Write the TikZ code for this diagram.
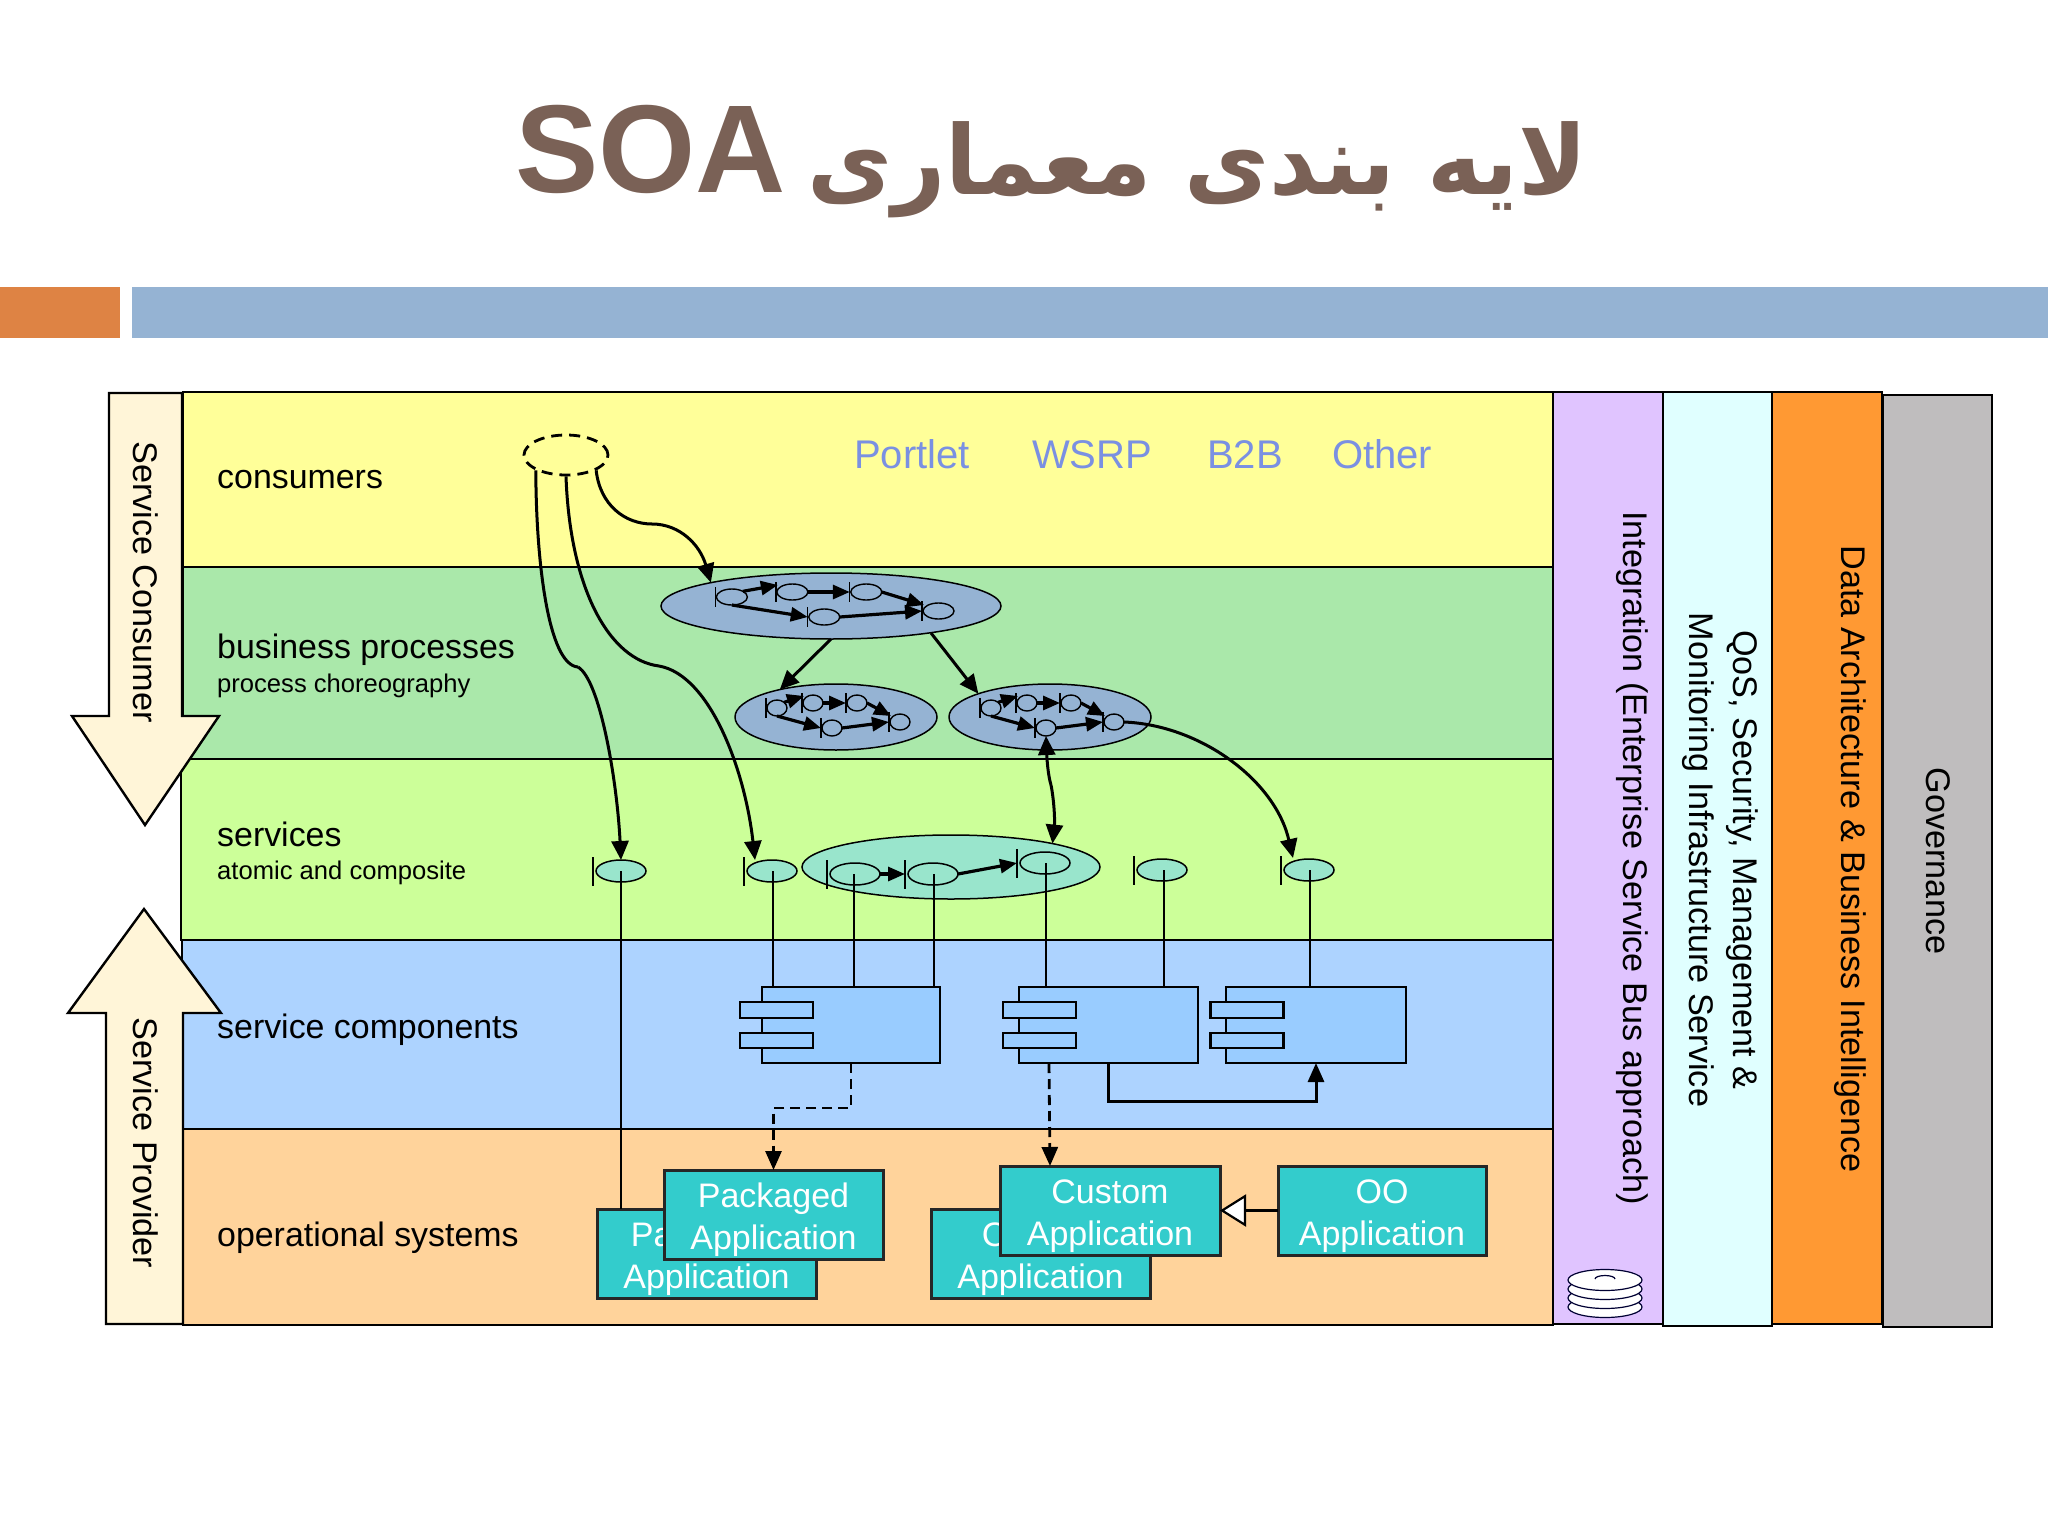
\documentclass[tikz,border=0pt]{standalone}
\usepackage{graphicx}
\usepackage{fontspec}
\setmainfont{Liberation Sans}
\newfontfamily\arabicfont[Script=Arabic]{DejaVu Sans}
\TeXXeTstate=1
\usetikzlibrary{shapes.geometric,arrows.meta,calc}
\definecolor{bandA}{HTML}{FFFF99}
\definecolor{bandB}{HTML}{AAE8AA}
\definecolor{bandC}{HTML}{CCFF99}
\definecolor{bandD}{HTML}{ADD3FF}
\definecolor{bandE}{HTML}{FFD39B}
\definecolor{sideA}{HTML}{E0C4FF}
\definecolor{sideB}{HTML}{E0FFFF}
\definecolor{sideC}{HTML}{FF9933}
\definecolor{sideD}{HTML}{BFBDBE}
\definecolor{titlecol}{HTML}{7A6156}
\definecolor{barO}{HTML}{DE8344}
\definecolor{barB}{HTML}{95B3D3}
\definecolor{flowfill}{HTML}{95B3D3}
\definecolor{svcfill}{HTML}{99E5CC}
\definecolor{compfill}{HTML}{99CCFF}
\definecolor{appfill}{HTML}{33CCCC}
\definecolor{arrowfill}{HTML}{FFF5D8}
\definecolor{techcol}{HTML}{7A90E2}
\newcommand{\lowr}[1]{\raisebox{-5pt}[26pt][8pt]{#1}}
\tikzset{
  x=1pt,y=-1pt,
  band/.style={draw=black,line width=1.5pt},
  side/.style={draw=black,line width=2pt},
  biglabel/.style={anchor=base west,inner sep=0,font=\fontsize{33.9}{40}\selectfont},
  sublabel/.style={anchor=base west,inner sep=0,font=\fontsize{25.6}{30}\selectfont},
  techlabel/.style={anchor=base west,inner sep=0,text=techcol,font=\fontsize{40}{46}\selectfont},
  vertlabel/.style={rotate=-90,inner sep=0,align=center,font=\fontsize{34.2}{44}\selectfont},
  flowell/.style={ellipse,draw=black,line width=1.5pt,fill=flowfill,inner sep=0,outer sep=0},
  svcell/.style={ellipse,draw=black,line width=1.5pt,fill=svcfill,inner sep=0,outer sep=0,minimum width=50pt,minimum height=22pt},
  flowdot/.style={ellipse,draw=black,line width=1.4pt,inner sep=0,outer sep=0,minimum height=16pt},
  stick/.style={draw=black,line width=1.4pt},
  wire/.style={draw=black,line width=2pt},
  plainrun/.style={draw=black,line width=3pt},
  curve/.style={draw=black,line width=3pt,-{Triangle[length=19pt,width=17pt]}},
  small/.style={draw=black,line width=3.2pt,-{Triangle[length=17pt,width=14pt]}},
  comp/.style={draw=black,line width=2.2pt,fill=compfill,inner sep=0,outer sep=0},
  tab/.style={comp,minimum width=73pt},
  dashline/.style={draw=black,line width=2.8pt,dash pattern=on 10pt off 6pt,-{Triangle[length=19pt,width=16pt]}},
  solidline/.style={draw=black,line width=3pt,-{Triangle[length=19pt,width=16pt]}},
  appbox/.style={draw=black!85,line width=3pt,fill=appfill,text=white,inner sep=0,outer sep=0,align=center,font=\fontsize{34}{42}\selectfont},
  bigarrow/.style={draw=black,line width=2.4pt,fill=arrowfill,line join=miter},
  disk/.style={ellipse,draw=black!80!blue,line width=1.2pt,fill=white,inner sep=0,outer sep=0,minimum width=74pt,minimum height=21pt},
}
\newcommand{\flowicons}[5]{%
  \foreach \n/\dx/\dy in {a/-59/-9,b/-23/-14,c/21/-14,d/64/5,e/-4/11}{%
    \node[flowdot,minimum width=#5*2pt] (#1-\n) at ({#2+#4*\dx},{#3+\dy}) {};
    \coordinate (#1-\n-bar) at ({#2+#4*\dx-#5-1},{#3+\dy});
    \draw[stick] ([yshift=10pt]#1-\n-bar) -- ([yshift=-10pt]#1-\n-bar);
  }
  \draw[small] (#1-a.north east) -- ([xshift=2pt,yshift=7pt]#1-b-bar);
  \draw[small] (#1-b.east) -- (#1-c-bar);
  \draw[small] (#1-c.east) -- ([xshift=2pt,yshift=6pt]#1-d-bar);
  \draw[small] (#1-a.south) -- (#1-e-bar);
  \draw[small] (#1-e.east) -- (#1-d-bar);
}
\begin{document}
\begin{tikzpicture}
\useasboundingbox (0,0) rectangle (2048,1536);
\fill[white] (0,0) rectangle (2048,1536);
% title
\node[anchor=base west,inner sep=0,text=titlecol,font=\bfseries\fontsize{125}{130}\selectfont] (soa) at (515,193) {SOA};
\node[anchor=base east,inner sep=0,text=titlecol,font=\arabicfont\bfseries\fontsize{96}{110}\selectfont] (titlefa) at (1588,194) {\scalebox{0.965}[1]{\beginR لایه بندی معماری\endR}};
\fill[barO] (0,287) rectangle (120,338);
\fill[barB] (132,287) rectangle (2048,338);
% bands
\filldraw[band,fill=bandA] (183,392) rectangle (1553,567);
\filldraw[band,fill=bandB] (183,567) rectangle (1553,759);
\filldraw[band,fill=bandC] (181,759) rectangle (1553,940);
\filldraw[band,fill=bandD] (182,940) rectangle (1553,1129);
\filldraw[band,fill=bandE] (183,1129) rectangle (1553,1325);
% side panels
\filldraw[side,fill=sideA] (1553,392) rectangle (1663,1324);
\filldraw[side,fill=sideB] (1663,392) rectangle (1772,1326);
\filldraw[side,fill=sideC] (1772,392) rectangle (1882,1324);
\filldraw[side,fill=sideD] (1883,395) rectangle (1992,1327);
\node[vertlabel] (t-int) at (1632,858) {Integration (Enterprise Service Bus approach)};
\node[vertlabel] (t-qos) at (1720,860) {QoS, Security, Management \&\\Monitoring Infrastructure Service};
\node[vertlabel] (t-data) at (1850,859) {Data Architecture \& Business Intelligence};
\node[vertlabel] (t-gov) at (1938,861) {Governance};
% disks
\foreach \i/\yy in {4/1307,3/1298,2/1289,1/1280}{\node[disk] (disk\i) at (1605,\yy) {};}
\draw[draw=black!80!blue,line width=1.2pt] (1595,1279) arc[start angle=180,end angle=360,x radius=10,y radius=3.5];
% labels
\node[biglabel] (l-cons) at (217,488) {consumers};
\node[biglabel] (l-bp) at (217,658) {business processes};
\node[sublabel] (l-pc) at (217,692) {process choreography};
\node[biglabel] (l-sv) at (217,846) {services};
\node[sublabel] (l-ac) at (217,879) {atomic and composite};
\node[techlabel] (t-portlet) at (854,468) {Portlet};
\node[techlabel] (t-wsrp) at (1032,468) {WSRP};
\node[techlabel] (t-b2b) at (1207,468) {B2B};
\node[techlabel] (t-other) at (1332,468) {Other};
% side arrows
\filldraw[bigarrow] (109,393) -- (182,393) -- (182,716) -- (219,716) -- (145,825) -- (72,716) -- (109,716) -- cycle;
\filldraw[bigarrow] (106,1324) -- (183,1324) -- (183,1013) -- (221,1013) -- (144,909) -- (68,1013) -- (106,1013) -- cycle;
\node[biglabel] (l-sc) at (217,1038) {service components};
\node[biglabel] (l-os) at (217,1246) {operational systems};
\node[vertlabel] (t-cons) at (146,582) {Service Consumer};
\node[vertlabel] (t-prov) at (146,1143) {Service Provider};
% consumer ellipse
\node[ellipse,draw=black,line width=2.8pt,dash pattern=on 11pt off 7pt,inner sep=0,minimum width=84pt,minimum height=40pt] (dash) at (566,455) {};
% process ellipses
\node[flowell,minimum width=340pt,minimum height=66pt] (E1) at (831,606) {};
\node[flowell,minimum width=202pt,minimum height=66pt] (E2) at (836,717) {};
\node[flowell,minimum width=202pt,minimum height=66pt] (E3) at (1050,717) {};
\flowicons{P1}{831}{606}{1.68}{15.5}
\flowicons{P2}{836}{717}{1}{10}
\flowicons{P3}{1050}{717}{1}{10}
% service ellipses
\node[ellipse,draw=black,line width=1.5pt,fill=svcfill,inner sep=0,outer sep=0,minimum width=298pt,minimum height=64pt] (E4) at (951,867) {};
\foreach \nm/\xx/\yy/\bx in {s1/621/871/593,s2/772/871/744,s3/855/874/827,s4/933/874/905,s5/1045/863/1017,s6/1162/870/1134,s7/1309/870/1281}{
  \node[svcell] (\nm) at (\xx,\yy) {};
  \coordinate (\nm-bar) at (\bx,\yy);
  \draw[stick] ([yshift=14pt]\nm-bar) -- ([yshift=-15pt]\nm-bar);
}
\draw[small] (s3.east) -- (s4-bar);
\draw[small] (s4.east) -- (s5-bar);
% components
\node[comp,minimum width=178.5pt,minimum height=76pt] (C1) at (851,1025) {};
\node[tab,minimum height=16pt] (C1t) at (776.5,1010) {};
\node[tab,minimum height=15pt] (C1b) at (776.5,1040.5) {};
\node[comp,minimum width=179pt,minimum height=76pt] (C2) at (1108.5,1025) {};
\node[tab,minimum height=16pt] (C2t) at (1039.5,1010) {};
\node[tab,minimum height=15pt] (C2b) at (1039.5,1040.5) {};
\node[comp,minimum width=180pt,minimum height=76pt] (C3) at (1316,1025) {};
\node[tab,minimum height=16pt] (C3t) at (1247,1010) {};
\node[tab,minimum height=15pt] (C3b) at (1247,1040.5) {};
% applications
\node[appbox,minimum width=219pt,minimum height=89pt] (backP) at (706.5,1253.5) {\lowr{Packaged}\\\lowr{Application}};
\node[appbox,minimum width=219pt,minimum height=89pt] (frontP) at (773.5,1214.5) {\lowr{Packaged}\\\lowr{Application}};
\node[appbox,minimum width=219pt,minimum height=89pt] (backC) at (1040.5,1253.5) {\lowr{Custom}\\\lowr{Application}};
\node[appbox,minimum width=220pt,minimum height=89pt] (frontC) at (1110,1210.5) {\lowr{Custom}\\\lowr{Application}};
\node[appbox,minimum width=208pt,minimum height=89pt] (oo) at (1382,1210.5) {\lowr{OO}\\\lowr{Application}};
% vertical wires
\draw[wire] (s1.center) -- (s1.center |- backP.north);
\draw[wire] ([xshift=1pt]s2.center) -- ([xshift=1pt]s2.center |- C1.north);
\draw[wire] ([xshift=-1pt]s3.center) -- ([xshift=-1pt]s3.center |- C1.north);
\draw[wire] ([xshift=1pt]s4.center) -- ([xshift=1pt]s4.center |- C1.north);
\draw[wire] ([xshift=1pt]s5.center) -- ([xshift=1pt]s5.center |- C2.north);
\draw[wire] ([xshift=2pt]s6.center) -- ([xshift=2pt]s6.center |- C2.north);
\draw[wire] ([xshift=1pt]s7.center) -- ([xshift=1pt]s7.center |- C3.north);
% curves
\coordinate (k1) at (578,667);
\draw[plainrun] (dash.207) .. controls (536,560) and (548,665) .. (k1);
\draw[curve] (k1) .. controls (600,680) and (617,780) .. (s1.north);
\coordinate (k2) at (659,666);
\draw[plainrun] (dash.south) .. controls (570,590) and (610,660) .. (k2);
\draw[curve] (k2) .. controls (710,675) and (745,770) .. (755,860);
\coordinate (k3) at (652,524);
\draw[plainrun] (dash.333) .. controls (600,505) and (625,524) .. (k3);
\draw[curve] (k3) .. controls (680,524) and (700,545) .. (E1.169);
\draw[curve] (E1.south) -- (E2.154);
\draw[curve] ($(E1.south)+(100,-6)$) -- (E3.162);
\draw[curve] (P3-d.east) .. controls (1200,725) and (1275,780) .. (1293,858);
\coordinate (k4) at (1051,785);
\draw[plainrun,{Triangle[length=19pt,width=17pt]}-] (P3-e.south) .. controls (1047,760) and (1048,775) .. (k4);
\draw[curve] (k4) .. controls (1054,800) and (1055,820) .. (E4.13);
% component links
\draw[dashline] (C1.south) -- ++(0,45) -| (frontP.north);
\draw[dashline] ($(C2.south west)+(30,0)$) -- (frontC.north -| 1050,0);
\draw[solidline] (C2.south) -- ++(0,38) -| (C3.south);
\draw[draw=black,line width=2.2pt,-{Triangle[open,fill=white,length=26pt,width=32pt]}] (oo.west) -- (frontC.east);
\end{tikzpicture}
\end{document}
